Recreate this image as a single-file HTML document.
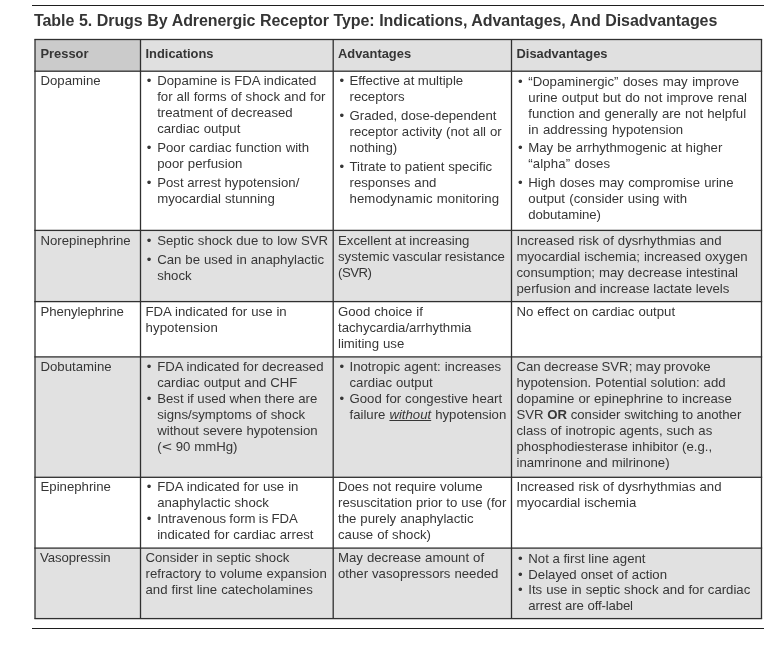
<!DOCTYPE html>
<html lang="en">
<head>
<meta charset="utf-8">
<title>Table 5. Drugs By Adrenergic Receptor Type</title>
<style>
html,body{margin:0;padding:0;background:#fff}
body{width:770px;height:655px;position:relative;overflow:hidden;font-family:"Liberation Sans",Arial,Helvetica,sans-serif;color:#363636;font-size:13.2px;line-height:16px;word-spacing:0.3px}
svg{position:absolute;left:0;top:0}
h1{position:absolute;margin:0;left:34px;top:11px;font-size:16px;line-height:20px;font-weight:bold;white-space:nowrap;letter-spacing:-0.075px;word-spacing:0.3px;color:#353535}
.t,.th{position:absolute;white-space:nowrap;height:16px}
.lt{display:inline-block;transform:scaleX(1.3);transform-origin:0 50%;margin-right:2.4px}
.th{font-weight:bold;color:#353535;font-size:12.9px;word-spacing:0}

</style>
</head>
<body>
<svg width="770" height="655" viewBox="0 0 770 655" aria-hidden="true">
<rect x="35" y="39.5" width="105.5" height="31.7" fill="#cbcbcb"/>
<rect x="140.5" y="39.5" width="621" height="31.7" fill="#e0e0e0"/>
<rect x="35" y="230.4" width="726.5" height="71.2" fill="#e1e1e1"/>
<rect x="35" y="356.9" width="726.5" height="120.4" fill="#e1e1e1"/>
<rect x="35" y="548.1" width="726.5" height="70.5" fill="#e1e1e1"/>
<g fill="#303030">
<rect x="32" y="5" width="732" height="1" fill="#1e1e1e"/>
<rect x="32" y="628" width="732" height="1" fill="#1e1e1e"/>
<rect x="34.35" y="38.85" width="727.8" height="1.3"/>
<rect x="34.35" y="70.55" width="727.8" height="1.3"/>
<rect x="34.35" y="229.75" width="727.8" height="1.3"/>
<rect x="34.35" y="300.95" width="727.8" height="1.3"/>
<rect x="34.35" y="356.25" width="727.8" height="1.3"/>
<rect x="34.35" y="476.65" width="727.8" height="1.3"/>
<rect x="34.35" y="547.45" width="727.8" height="1.3"/>
<rect x="34.35" y="617.95" width="727.8" height="1.3"/>
<rect x="34.35" y="39.5" width="1.3" height="579.1"/>
<rect x="139.85" y="39.5" width="1.3" height="579.1"/>
<rect x="332.55" y="39.5" width="1.3" height="579.1"/>
<rect x="510.85" y="39.5" width="1.3" height="579.1"/>
<rect x="760.85" y="39.5" width="1.3" height="579.1"/>
</g>
</svg>
<h1>Table 5. Drugs By Adrenergic Receptor Type: Indications, Advantages, And Disadvantages</h1>
<div class="th" style="left:40.5px;top:46px">Pressor</div>
<div class="th" style="left:145.5px;top:46px">Indications</div>
<div class="th" style="left:338px;top:46px">Advantages</div>
<div class="th" style="left:516.5px;top:46px">Disadvantages</div>
<div class="t" style="left:40.5px;top:73px">Dopamine</div>
<div class="t" style="left:146.8px;top:73px">•</div>
<div class="t" style="left:157.2px;top:73px;word-spacing:0.07px">Dopamine is FDA indicated</div>
<div class="t" style="left:157.2px;top:89px">for all forms of shock and for</div>
<div class="t" style="left:157.2px;top:105px;word-spacing:-0.05px">treatment of decreased</div>
<div class="t" style="left:157.2px;top:121px">cardiac output</div>
<div class="t" style="left:146.8px;top:140px">•</div>
<div class="t" style="left:157.2px;top:140px">Poor cardiac function with</div>
<div class="t" style="left:157.2px;top:156px;letter-spacing:0.05px">poor perfusion</div>
<div class="t" style="left:146.8px;top:175px">•</div>
<div class="t" style="left:157.2px;top:175px;word-spacing:-0.05px">Post arrest hypotension/</div>
<div class="t" style="left:157.2px;top:191px">myocardial stunning</div>
<div class="t" style="left:339.5px;top:73px">•</div>
<div class="t" style="left:349.5px;top:73px;word-spacing:-0.2px">Effective at multiple</div>
<div class="t" style="left:349.5px;top:89px">receptors</div>
<div class="t" style="left:339.5px;top:108px">•</div>
<div class="t" style="left:349.5px;top:108px">Graded, dose-dependent</div>
<div class="t" style="left:349.5px;top:124px">receptor activity (not all or</div>
<div class="t" style="left:349.5px;top:140px">nothing)</div>
<div class="t" style="left:339.5px;top:159px">•</div>
<div class="t" style="left:349.5px;top:159px;word-spacing:0.07px">Titrate to patient specific</div>
<div class="t" style="left:349.5px;top:175px">responses and</div>
<div class="t" style="left:349.5px;top:191px;letter-spacing:0.09px">hemodynamic monitoring</div>
<div class="t" style="left:518px;top:74px">•</div>
<div class="t" style="left:528.3px;top:74px;word-spacing:0.87px">“Dopaminergic” doses may improve</div>
<div class="t" style="left:528.3px;top:90px;word-spacing:0.52px">urine output but do not improve renal</div>
<div class="t" style="left:528.3px;top:106px">function and generally are not helpful</div>
<div class="t" style="left:528.3px;top:122px;word-spacing:0.8px">in addressing hypotension</div>
<div class="t" style="left:518px;top:140px">•</div>
<div class="t" style="left:528.3px;top:140px">May be arrhythmogenic at higher</div>
<div class="t" style="left:528.3px;top:156px;letter-spacing:0.14px">“alpha” doses</div>
<div class="t" style="left:518px;top:175px">•</div>
<div class="t" style="left:528.3px;top:175px;word-spacing:0.55px">High doses may compromise urine</div>
<div class="t" style="left:528.3px;top:191px;word-spacing:0.63px">output (consider using with</div>
<div class="t" style="left:528.3px;top:207px;letter-spacing:-0.07px">dobutamine)</div>
<div class="t" style="left:40.5px;top:233px">Norepinephrine</div>
<div class="t" style="left:146.8px;top:233px">•</div>
<div class="t" style="left:157.2px;top:233px">Septic shock due to low SVR</div>
<div class="t" style="left:146.8px;top:252px">•</div>
<div class="t" style="left:157.2px;top:252px">Can be used in anaphylactic</div>
<div class="t" style="left:157.2px;top:268px">shock</div>
<div class="t" style="left:338px;top:233px;word-spacing:-0.3px">Excellent at increasing</div>
<div class="t" style="left:338px;top:249px;word-spacing:-0.45px">systemic vascular resistance</div>
<div class="t" style="left:338px;top:265px;letter-spacing:-0.5px">(SVR)</div>
<div class="t" style="left:516.5px;top:233px">Increased risk of dysrhythmias and</div>
<div class="t" style="left:516.5px;top:249px">myocardial ischemia; increased oxygen</div>
<div class="t" style="left:516.5px;top:265px">consumption; may decrease intestinal</div>
<div class="t" style="left:516.5px;top:281px;word-spacing:-0.12px">perfusion and increase lactate levels</div>
<div class="t" style="left:40.5px;top:304px;letter-spacing:-0.08px">Phenylephrine</div>
<div class="t" style="left:145.5px;top:304px">FDA indicated for use in</div>
<div class="t" style="left:145.5px;top:320px;letter-spacing:0.12px">hypotension</div>
<div class="t" style="left:338px;top:304px">Good choice if</div>
<div class="t" style="left:338px;top:320px">tachycardia/arrhythmia</div>
<div class="t" style="left:338px;top:336px">limiting use</div>
<div class="t" style="left:516.5px;top:304px">No effect on cardiac output</div>
<div class="t" style="left:40.5px;top:359px">Dobutamine</div>
<div class="t" style="left:146.8px;top:359px">•</div>
<div class="t" style="left:157.2px;top:359px;word-spacing:-0.03px">FDA indicated for decreased</div>
<div class="t" style="left:157.2px;top:375px">cardiac output and CHF</div>
<div class="t" style="left:146.8px;top:391px">•</div>
<div class="t" style="left:157.2px;top:391px;word-spacing:-0.1px">Best if used when there are</div>
<div class="t" style="left:157.2px;top:407px">signs/symptoms of shock</div>
<div class="t" style="left:157.2px;top:423px">without severe hypotension</div>
<div class="t" style="left:157.2px;top:439px">(<span class="lt">&lt;</span> 90 mmHg)</div>
<div class="t" style="left:339.5px;top:359px">•</div>
<div class="t" style="left:349.5px;top:359px">Inotropic agent: increases</div>
<div class="t" style="left:349.5px;top:375px">cardiac output</div>
<div class="t" style="left:339.5px;top:391px">•</div>
<div class="t" style="left:349.5px;top:391px">Good for congestive heart</div>
<div class="t" style="left:349.5px;top:407px">failure <i><u>without</u></i> hypotension</div>
<div class="t" style="left:516.5px;top:359px;word-spacing:-0.38px">Can decrease SVR; may provoke</div>
<div class="t" style="left:516.5px;top:375px">hypotension. Potential solution: add</div>
<div class="t" style="left:516.5px;top:391px">dopamine or epinephrine to increase</div>
<div class="t" style="left:516.5px;top:407px;word-spacing:-0.04px">SVR <b>OR</b> consider switching to another</div>
<div class="t" style="left:516.5px;top:423px">class of inotropic agents, such as</div>
<div class="t" style="left:516.5px;top:439px">phosphodiesterase inhibitor (e.g.,</div>
<div class="t" style="left:516.5px;top:455px">inamrinone and milrinone)</div>
<div class="t" style="left:40.5px;top:479px">Epinephrine</div>
<div class="t" style="left:146.8px;top:479px">•</div>
<div class="t" style="left:157.2px;top:479px">FDA indicated for use in</div>
<div class="t" style="left:157.2px;top:495px">anaphylactic shock</div>
<div class="t" style="left:146.8px;top:511px">•</div>
<div class="t" style="left:157.2px;top:511px;word-spacing:-0.53px">Intravenous form is FDA</div>
<div class="t" style="left:157.2px;top:527px">indicated for cardiac arrest</div>
<div class="t" style="left:338px;top:479px">Does not require volume</div>
<div class="t" style="left:338px;top:495px">resuscitation prior to use (for</div>
<div class="t" style="left:338px;top:511px">the purely anaphylactic</div>
<div class="t" style="left:338px;top:527px">cause of shock)</div>
<div class="t" style="left:516.5px;top:479px">Increased risk of dysrhythmias and</div>
<div class="t" style="left:516.5px;top:495px">myocardial ischemia</div>
<div class="t" style="left:40px;top:550px;letter-spacing:-0.1px">Vasopressin</div>
<div class="t" style="left:145.5px;top:550px">Consider in septic shock</div>
<div class="t" style="left:145.5px;top:566px">refractory to volume expansion</div>
<div class="t" style="left:145.5px;top:582px">and first line catecholamines</div>
<div class="t" style="left:338px;top:550px">May decrease amount of</div>
<div class="t" style="left:338px;top:566px">other vasopressors needed</div>
<div class="t" style="left:518px;top:551px">•</div>
<div class="t" style="left:528.3px;top:551px;word-spacing:-0.03px">Not a first line agent</div>
<div class="t" style="left:518px;top:567px">•</div>
<div class="t" style="left:528.3px;top:567px">Delayed onset of action</div>
<div class="t" style="left:518px;top:582px">•</div>
<div class="t" style="left:528.3px;top:582px">Its use in septic shock and for cardiac</div>
<div class="t" style="left:528.3px;top:598px;letter-spacing:-0.14px">arrest are off-label</div>
</body>
</html>
